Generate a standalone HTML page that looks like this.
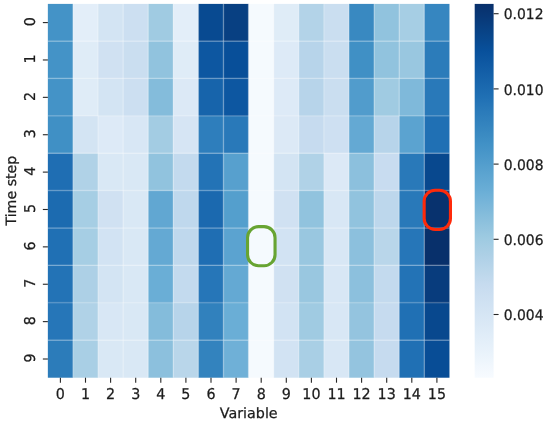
<!DOCTYPE html><html><head><meta charset="utf-8"><style>html,body{margin:0;padding:0;background:#fff;}body{width:550px;height:428px;overflow:hidden;}svg{display:block;}text{text-rendering:geometricPrecision;font-family:"DejaVu Sans","Liberation Sans",sans-serif;fill:#1c1c1c;stroke:#1c1c1c;stroke-width:0.25px;}</style></head><body>
<svg width="550" height="428" viewBox="0 0 550 428">
<defs><linearGradient id="cb" x1="0" y1="0" x2="0" y2="1"><stop offset="0.0000" stop-color="#08306b"/><stop offset="0.0312" stop-color="#083776"/><stop offset="0.0625" stop-color="#084082"/><stop offset="0.0938" stop-color="#08488e"/><stop offset="0.1250" stop-color="#08509b"/><stop offset="0.1562" stop-color="#0e58a2"/><stop offset="0.1875" stop-color="#1460a8"/><stop offset="0.2188" stop-color="#1a68ae"/><stop offset="0.2500" stop-color="#2070b4"/><stop offset="0.2812" stop-color="#2979b9"/><stop offset="0.3125" stop-color="#3181bd"/><stop offset="0.3438" stop-color="#3989c1"/><stop offset="0.3750" stop-color="#4191c6"/><stop offset="0.4062" stop-color="#4b98ca"/><stop offset="0.4375" stop-color="#56a0ce"/><stop offset="0.4688" stop-color="#60a7d2"/><stop offset="0.5000" stop-color="#6aaed6"/><stop offset="0.5312" stop-color="#77b5d9"/><stop offset="0.5625" stop-color="#84bcdb"/><stop offset="0.5938" stop-color="#91c3de"/><stop offset="0.6250" stop-color="#9dcae1"/><stop offset="0.6562" stop-color="#a8cee4"/><stop offset="0.6875" stop-color="#b2d2e8"/><stop offset="0.7188" stop-color="#bcd7eb"/><stop offset="0.7500" stop-color="#c6dbef"/><stop offset="0.7812" stop-color="#ccdff1"/><stop offset="0.8125" stop-color="#d2e3f3"/><stop offset="0.8438" stop-color="#d8e7f5"/><stop offset="0.8750" stop-color="#deebf7"/><stop offset="0.9062" stop-color="#e4eff9"/><stop offset="0.9375" stop-color="#eaf3fb"/><stop offset="0.9688" stop-color="#f1f7fd"/><stop offset="1.0000" stop-color="#f7fbff"/></linearGradient></defs>
<rect x="47.85" y="3.90" width="25.12" height="37.40" fill="#4493c7"/>
<rect x="72.95" y="3.90" width="25.12" height="37.40" fill="#e3eef9"/>
<rect x="98.05" y="3.90" width="25.12" height="37.40" fill="#d3e4f3"/>
<rect x="123.15" y="3.90" width="25.12" height="37.40" fill="#ccdff1"/>
<rect x="148.25" y="3.90" width="25.12" height="37.40" fill="#a0cbe2"/>
<rect x="173.35" y="3.90" width="25.12" height="37.40" fill="#e3eef9"/>
<rect x="198.45" y="3.90" width="25.12" height="37.40" fill="#084a91"/>
<rect x="223.55" y="3.90" width="25.12" height="37.40" fill="#084082"/>
<rect x="248.65" y="3.90" width="25.12" height="37.40" fill="#f5fafe"/>
<rect x="273.75" y="3.90" width="25.12" height="37.40" fill="#dfecf7"/>
<rect x="298.85" y="3.90" width="25.12" height="37.40" fill="#b3d3e8"/>
<rect x="323.95" y="3.90" width="25.12" height="37.40" fill="#cadef0"/>
<rect x="349.05" y="3.90" width="25.12" height="37.40" fill="#3989c1"/>
<rect x="374.15" y="3.90" width="25.12" height="37.40" fill="#91c3de"/>
<rect x="399.25" y="3.90" width="25.12" height="37.40" fill="#a6cee4"/>
<rect x="424.35" y="3.90" width="25.12" height="37.40" fill="#3686c0"/>
<rect x="47.85" y="41.28" width="25.12" height="37.40" fill="#4493c7"/>
<rect x="72.95" y="41.28" width="25.12" height="37.40" fill="#dfecf7"/>
<rect x="98.05" y="41.28" width="25.12" height="37.40" fill="#d0e1f2"/>
<rect x="123.15" y="41.28" width="25.12" height="37.40" fill="#cadef0"/>
<rect x="148.25" y="41.28" width="25.12" height="37.40" fill="#91c3de"/>
<rect x="173.35" y="41.28" width="25.12" height="37.40" fill="#dfecf7"/>
<rect x="198.45" y="41.28" width="25.12" height="37.40" fill="#0d57a1"/>
<rect x="223.55" y="41.28" width="25.12" height="37.40" fill="#084f99"/>
<rect x="248.65" y="41.28" width="25.12" height="37.40" fill="#f5fafe"/>
<rect x="273.75" y="41.28" width="25.12" height="37.40" fill="#ddeaf7"/>
<rect x="298.85" y="41.28" width="25.12" height="37.40" fill="#b7d4ea"/>
<rect x="323.95" y="41.28" width="25.12" height="37.40" fill="#cadef0"/>
<rect x="349.05" y="41.28" width="25.12" height="37.40" fill="#4090c5"/>
<rect x="374.15" y="41.28" width="25.12" height="37.40" fill="#91c3de"/>
<rect x="399.25" y="41.28" width="25.12" height="37.40" fill="#99c7e0"/>
<rect x="424.35" y="41.28" width="25.12" height="37.40" fill="#2c7cba"/>
<rect x="47.85" y="78.66" width="25.12" height="37.40" fill="#4493c7"/>
<rect x="72.95" y="78.66" width="25.12" height="37.40" fill="#dfecf7"/>
<rect x="98.05" y="78.66" width="25.12" height="37.40" fill="#d3e4f3"/>
<rect x="123.15" y="78.66" width="25.12" height="37.40" fill="#ccdff1"/>
<rect x="148.25" y="78.66" width="25.12" height="37.40" fill="#84bcdb"/>
<rect x="173.35" y="78.66" width="25.12" height="37.40" fill="#dce9f6"/>
<rect x="198.45" y="78.66" width="25.12" height="37.40" fill="#1764ab"/>
<rect x="223.55" y="78.66" width="25.12" height="37.40" fill="#0d57a1"/>
<rect x="248.65" y="78.66" width="25.12" height="37.40" fill="#f5fafe"/>
<rect x="273.75" y="78.66" width="25.12" height="37.40" fill="#ddeaf7"/>
<rect x="298.85" y="78.66" width="25.12" height="37.40" fill="#b7d4ea"/>
<rect x="323.95" y="78.66" width="25.12" height="37.40" fill="#cadef0"/>
<rect x="349.05" y="78.66" width="25.12" height="37.40" fill="#519ccc"/>
<rect x="374.15" y="78.66" width="25.12" height="37.40" fill="#a0cbe2"/>
<rect x="399.25" y="78.66" width="25.12" height="37.40" fill="#7fb9da"/>
<rect x="424.35" y="78.66" width="25.12" height="37.40" fill="#2979b9"/>
<rect x="47.85" y="116.04" width="25.12" height="37.40" fill="#4090c5"/>
<rect x="72.95" y="116.04" width="25.12" height="37.40" fill="#d3e4f3"/>
<rect x="98.05" y="116.04" width="25.12" height="37.40" fill="#ddeaf7"/>
<rect x="123.15" y="116.04" width="25.12" height="37.40" fill="#d8e7f5"/>
<rect x="148.25" y="116.04" width="25.12" height="37.40" fill="#a3cce3"/>
<rect x="173.35" y="116.04" width="25.12" height="37.40" fill="#d6e5f4"/>
<rect x="198.45" y="116.04" width="25.12" height="37.40" fill="#2e7ebc"/>
<rect x="223.55" y="116.04" width="25.12" height="37.40" fill="#2979b9"/>
<rect x="248.65" y="116.04" width="25.12" height="37.40" fill="#f5fafe"/>
<rect x="273.75" y="116.04" width="25.12" height="37.40" fill="#dce9f6"/>
<rect x="298.85" y="116.04" width="25.12" height="37.40" fill="#c6dbef"/>
<rect x="323.95" y="116.04" width="25.12" height="37.40" fill="#cee0f2"/>
<rect x="349.05" y="116.04" width="25.12" height="37.40" fill="#64a9d3"/>
<rect x="374.15" y="116.04" width="25.12" height="37.40" fill="#b7d4ea"/>
<rect x="399.25" y="116.04" width="25.12" height="37.40" fill="#5ba3d0"/>
<rect x="424.35" y="116.04" width="25.12" height="37.40" fill="#2070b4"/>
<rect x="47.85" y="153.42" width="25.12" height="37.40" fill="#1f6eb3"/>
<rect x="72.95" y="153.42" width="25.12" height="37.40" fill="#b0d2e7"/>
<rect x="98.05" y="153.42" width="25.12" height="37.40" fill="#d9e8f5"/>
<rect x="123.15" y="153.42" width="25.12" height="37.40" fill="#d9e8f5"/>
<rect x="148.25" y="153.42" width="25.12" height="37.40" fill="#91c3de"/>
<rect x="173.35" y="153.42" width="25.12" height="37.40" fill="#c3daee"/>
<rect x="198.45" y="153.42" width="25.12" height="37.40" fill="#2373b6"/>
<rect x="223.55" y="153.42" width="25.12" height="37.40" fill="#57a0ce"/>
<rect x="248.65" y="153.42" width="25.12" height="37.40" fill="#f5fafe"/>
<rect x="273.75" y="153.42" width="25.12" height="37.40" fill="#d3e4f3"/>
<rect x="298.85" y="153.42" width="25.12" height="37.40" fill="#b0d2e7"/>
<rect x="323.95" y="153.42" width="25.12" height="37.40" fill="#dce9f6"/>
<rect x="349.05" y="153.42" width="25.12" height="37.40" fill="#8cc0dd"/>
<rect x="374.15" y="153.42" width="25.12" height="37.40" fill="#c8dcf0"/>
<rect x="399.25" y="153.42" width="25.12" height="37.40" fill="#2979b9"/>
<rect x="424.35" y="153.42" width="25.12" height="37.40" fill="#08488e"/>
<rect x="47.85" y="190.80" width="25.12" height="37.40" fill="#1c6bb0"/>
<rect x="72.95" y="190.80" width="25.12" height="37.40" fill="#a6cee4"/>
<rect x="98.05" y="190.80" width="25.12" height="37.40" fill="#d0e1f2"/>
<rect x="123.15" y="190.80" width="25.12" height="37.40" fill="#d9e8f5"/>
<rect x="148.25" y="190.80" width="25.12" height="37.40" fill="#61a7d2"/>
<rect x="173.35" y="190.80" width="25.12" height="37.40" fill="#bfd8ed"/>
<rect x="198.45" y="190.80" width="25.12" height="37.40" fill="#1b69af"/>
<rect x="223.55" y="190.80" width="25.12" height="37.40" fill="#549fcd"/>
<rect x="248.65" y="190.80" width="25.12" height="37.40" fill="#f5fafe"/>
<rect x="273.75" y="190.80" width="25.12" height="37.40" fill="#d0e1f2"/>
<rect x="298.85" y="190.80" width="25.12" height="37.40" fill="#91c3de"/>
<rect x="323.95" y="190.80" width="25.12" height="37.40" fill="#d8e7f5"/>
<rect x="349.05" y="190.80" width="25.12" height="37.40" fill="#91c3de"/>
<rect x="374.15" y="190.80" width="25.12" height="37.40" fill="#bdd7ec"/>
<rect x="399.25" y="190.80" width="25.12" height="37.40" fill="#2979b9"/>
<rect x="424.35" y="190.80" width="25.12" height="37.40" fill="#08326e"/>
<rect x="47.85" y="228.18" width="25.12" height="37.40" fill="#2070b4"/>
<rect x="72.95" y="228.18" width="25.12" height="37.40" fill="#a6cee4"/>
<rect x="98.05" y="228.18" width="25.12" height="37.40" fill="#d2e3f3"/>
<rect x="123.15" y="228.18" width="25.12" height="37.40" fill="#d9e8f5"/>
<rect x="148.25" y="228.18" width="25.12" height="37.40" fill="#64a9d3"/>
<rect x="173.35" y="228.18" width="25.12" height="37.40" fill="#bfd8ed"/>
<rect x="198.45" y="228.18" width="25.12" height="37.40" fill="#1f6eb3"/>
<rect x="223.55" y="228.18" width="25.12" height="37.40" fill="#5ba3d0"/>
<rect x="248.65" y="228.18" width="25.12" height="37.40" fill="#f5fafe"/>
<rect x="273.75" y="228.18" width="25.12" height="37.40" fill="#d2e3f3"/>
<rect x="298.85" y="228.18" width="25.12" height="37.40" fill="#99c7e0"/>
<rect x="323.95" y="228.18" width="25.12" height="37.40" fill="#d8e7f5"/>
<rect x="349.05" y="228.18" width="25.12" height="37.40" fill="#8cc0dd"/>
<rect x="374.15" y="228.18" width="25.12" height="37.40" fill="#b9d6ea"/>
<rect x="399.25" y="228.18" width="25.12" height="37.40" fill="#2676b8"/>
<rect x="424.35" y="228.18" width="25.12" height="37.40" fill="#08306b"/>
<rect x="47.85" y="265.56" width="25.12" height="37.40" fill="#2373b6"/>
<rect x="72.95" y="265.56" width="25.12" height="37.40" fill="#add0e6"/>
<rect x="98.05" y="265.56" width="25.12" height="37.40" fill="#d3e4f3"/>
<rect x="123.15" y="265.56" width="25.12" height="37.40" fill="#d9e8f5"/>
<rect x="148.25" y="265.56" width="25.12" height="37.40" fill="#6aaed6"/>
<rect x="173.35" y="265.56" width="25.12" height="37.40" fill="#c3daee"/>
<rect x="198.45" y="265.56" width="25.12" height="37.40" fill="#2676b8"/>
<rect x="223.55" y="265.56" width="25.12" height="37.40" fill="#64a9d3"/>
<rect x="248.65" y="265.56" width="25.12" height="37.40" fill="#f5fafe"/>
<rect x="273.75" y="265.56" width="25.12" height="37.40" fill="#d0e1f2"/>
<rect x="298.85" y="265.56" width="25.12" height="37.40" fill="#99c7e0"/>
<rect x="323.95" y="265.56" width="25.12" height="37.40" fill="#d8e7f5"/>
<rect x="349.05" y="265.56" width="25.12" height="37.40" fill="#8cc0dd"/>
<rect x="374.15" y="265.56" width="25.12" height="37.40" fill="#c3daee"/>
<rect x="399.25" y="265.56" width="25.12" height="37.40" fill="#2373b6"/>
<rect x="424.35" y="265.56" width="25.12" height="37.40" fill="#083c7d"/>
<rect x="47.85" y="302.94" width="25.12" height="37.40" fill="#2676b8"/>
<rect x="72.95" y="302.94" width="25.12" height="37.40" fill="#b0d2e7"/>
<rect x="98.05" y="302.94" width="25.12" height="37.40" fill="#d8e7f5"/>
<rect x="123.15" y="302.94" width="25.12" height="37.40" fill="#d9e8f5"/>
<rect x="148.25" y="302.94" width="25.12" height="37.40" fill="#84bcdb"/>
<rect x="173.35" y="302.94" width="25.12" height="37.40" fill="#b7d4ea"/>
<rect x="198.45" y="302.94" width="25.12" height="37.40" fill="#3181bd"/>
<rect x="223.55" y="302.94" width="25.12" height="37.40" fill="#6aaed6"/>
<rect x="248.65" y="302.94" width="25.12" height="37.40" fill="#f5fafe"/>
<rect x="273.75" y="302.94" width="25.12" height="37.40" fill="#d2e3f3"/>
<rect x="298.85" y="302.94" width="25.12" height="37.40" fill="#a0cbe2"/>
<rect x="323.95" y="302.94" width="25.12" height="37.40" fill="#d8e7f5"/>
<rect x="349.05" y="302.94" width="25.12" height="37.40" fill="#94c4df"/>
<rect x="374.15" y="302.94" width="25.12" height="37.40" fill="#c6dbef"/>
<rect x="399.25" y="302.94" width="25.12" height="37.40" fill="#2070b4"/>
<rect x="424.35" y="302.94" width="25.12" height="37.40" fill="#08488e"/>
<rect x="47.85" y="340.32" width="25.12" height="37.40" fill="#2c7cba"/>
<rect x="72.95" y="340.32" width="25.12" height="37.40" fill="#a9cfe5"/>
<rect x="98.05" y="340.32" width="25.12" height="37.40" fill="#d9e8f5"/>
<rect x="123.15" y="340.32" width="25.12" height="37.40" fill="#d9e8f5"/>
<rect x="148.25" y="340.32" width="25.12" height="37.40" fill="#8cc0dd"/>
<rect x="173.35" y="340.32" width="25.12" height="37.40" fill="#b9d6ea"/>
<rect x="198.45" y="340.32" width="25.12" height="37.40" fill="#3383be"/>
<rect x="223.55" y="340.32" width="25.12" height="37.40" fill="#6fb0d7"/>
<rect x="248.65" y="340.32" width="25.12" height="37.40" fill="#f5fafe"/>
<rect x="273.75" y="340.32" width="25.12" height="37.40" fill="#d2e3f3"/>
<rect x="298.85" y="340.32" width="25.12" height="37.40" fill="#a9cfe5"/>
<rect x="323.95" y="340.32" width="25.12" height="37.40" fill="#d8e7f5"/>
<rect x="349.05" y="340.32" width="25.12" height="37.40" fill="#94c4df"/>
<rect x="374.15" y="340.32" width="25.12" height="37.40" fill="#c6dbef"/>
<rect x="399.25" y="340.32" width="25.12" height="37.40" fill="#2070b4"/>
<rect x="424.35" y="340.32" width="25.12" height="37.40" fill="#084d96"/>
<rect x="72.10" y="3.90" width="1.50" height="373.80" fill="#fff" fill-opacity="0.22"/>
<rect x="97.20" y="3.90" width="1.50" height="373.80" fill="#fff" fill-opacity="0.22"/>
<rect x="122.30" y="3.90" width="1.50" height="373.80" fill="#fff" fill-opacity="0.22"/>
<rect x="147.40" y="3.90" width="1.50" height="373.80" fill="#fff" fill-opacity="0.22"/>
<rect x="172.50" y="3.90" width="1.50" height="373.80" fill="#fff" fill-opacity="0.22"/>
<rect x="197.60" y="3.90" width="1.50" height="373.80" fill="#fff" fill-opacity="0.22"/>
<rect x="222.70" y="3.90" width="1.50" height="373.80" fill="#fff" fill-opacity="0.22"/>
<rect x="247.80" y="3.90" width="1.50" height="373.80" fill="#fff" fill-opacity="0.22"/>
<rect x="272.90" y="3.90" width="1.50" height="373.80" fill="#fff" fill-opacity="0.22"/>
<rect x="298.00" y="3.90" width="1.50" height="373.80" fill="#fff" fill-opacity="0.22"/>
<rect x="323.10" y="3.90" width="1.50" height="373.80" fill="#fff" fill-opacity="0.22"/>
<rect x="348.20" y="3.90" width="1.50" height="373.80" fill="#fff" fill-opacity="0.22"/>
<rect x="373.30" y="3.90" width="1.50" height="373.80" fill="#fff" fill-opacity="0.22"/>
<rect x="398.40" y="3.90" width="1.50" height="373.80" fill="#fff" fill-opacity="0.22"/>
<rect x="423.50" y="3.90" width="1.50" height="373.80" fill="#fff" fill-opacity="0.22"/>
<rect x="47.85" y="40.23" width="401.60" height="1.50" fill="#fff" fill-opacity="0.22"/>
<rect x="47.85" y="77.61" width="401.60" height="1.50" fill="#fff" fill-opacity="0.22"/>
<rect x="47.85" y="114.99" width="401.60" height="1.50" fill="#fff" fill-opacity="0.22"/>
<rect x="47.85" y="152.37" width="401.60" height="1.50" fill="#fff" fill-opacity="0.22"/>
<rect x="47.85" y="189.75" width="401.60" height="1.50" fill="#fff" fill-opacity="0.22"/>
<rect x="47.85" y="227.13" width="401.60" height="1.50" fill="#fff" fill-opacity="0.22"/>
<rect x="47.85" y="264.51" width="401.60" height="1.50" fill="#fff" fill-opacity="0.22"/>
<rect x="47.85" y="301.89" width="401.60" height="1.50" fill="#fff" fill-opacity="0.22"/>
<rect x="47.85" y="339.27" width="401.60" height="1.50" fill="#fff" fill-opacity="0.22"/>
<line x1="60.40" y1="377.70" x2="60.40" y2="382.70" stroke="#262626" stroke-width="1.10"/>
<text font-size="14.30" text-anchor="middle" transform="translate(60.40 398.60) scale(1 1.0400)">0</text>
<line x1="85.50" y1="377.70" x2="85.50" y2="382.70" stroke="#262626" stroke-width="1.10"/>
<text font-size="14.30" text-anchor="middle" transform="translate(85.50 398.60) scale(1 1.0400)">1</text>
<line x1="110.60" y1="377.70" x2="110.60" y2="382.70" stroke="#262626" stroke-width="1.10"/>
<text font-size="14.30" text-anchor="middle" transform="translate(110.60 398.60) scale(1 1.0400)">2</text>
<line x1="135.70" y1="377.70" x2="135.70" y2="382.70" stroke="#262626" stroke-width="1.10"/>
<text font-size="14.30" text-anchor="middle" transform="translate(135.70 398.60) scale(1 1.0400)">3</text>
<line x1="160.80" y1="377.70" x2="160.80" y2="382.70" stroke="#262626" stroke-width="1.10"/>
<text font-size="14.30" text-anchor="middle" transform="translate(160.80 398.60) scale(1 1.0400)">4</text>
<line x1="185.90" y1="377.70" x2="185.90" y2="382.70" stroke="#262626" stroke-width="1.10"/>
<text font-size="14.30" text-anchor="middle" transform="translate(185.90 398.60) scale(1 1.0400)">5</text>
<line x1="211.00" y1="377.70" x2="211.00" y2="382.70" stroke="#262626" stroke-width="1.10"/>
<text font-size="14.30" text-anchor="middle" transform="translate(211.00 398.60) scale(1 1.0400)">6</text>
<line x1="236.10" y1="377.70" x2="236.10" y2="382.70" stroke="#262626" stroke-width="1.10"/>
<text font-size="14.30" text-anchor="middle" transform="translate(236.10 398.60) scale(1 1.0400)">7</text>
<line x1="261.20" y1="377.70" x2="261.20" y2="382.70" stroke="#262626" stroke-width="1.10"/>
<text font-size="14.30" text-anchor="middle" transform="translate(261.20 398.60) scale(1 1.0400)">8</text>
<line x1="286.30" y1="377.70" x2="286.30" y2="382.70" stroke="#262626" stroke-width="1.10"/>
<text font-size="14.30" text-anchor="middle" transform="translate(286.30 398.60) scale(1 1.0400)">9</text>
<line x1="311.40" y1="377.70" x2="311.40" y2="382.70" stroke="#262626" stroke-width="1.10"/>
<text font-size="14.30" text-anchor="middle" transform="translate(311.40 398.60) scale(1 1.0400)">10</text>
<line x1="336.50" y1="377.70" x2="336.50" y2="382.70" stroke="#262626" stroke-width="1.10"/>
<text font-size="14.30" text-anchor="middle" transform="translate(336.50 398.60) scale(1 1.0400)">11</text>
<line x1="361.60" y1="377.70" x2="361.60" y2="382.70" stroke="#262626" stroke-width="1.10"/>
<text font-size="14.30" text-anchor="middle" transform="translate(361.60 398.60) scale(1 1.0400)">12</text>
<line x1="386.70" y1="377.70" x2="386.70" y2="382.70" stroke="#262626" stroke-width="1.10"/>
<text font-size="14.30" text-anchor="middle" transform="translate(386.70 398.60) scale(1 1.0400)">13</text>
<line x1="411.80" y1="377.70" x2="411.80" y2="382.70" stroke="#262626" stroke-width="1.10"/>
<text font-size="14.30" text-anchor="middle" transform="translate(411.80 398.60) scale(1 1.0400)">14</text>
<line x1="436.90" y1="377.70" x2="436.90" y2="382.70" stroke="#262626" stroke-width="1.10"/>
<text font-size="14.30" text-anchor="middle" transform="translate(436.90 398.60) scale(1 1.0400)">15</text>
<line x1="42.85" y1="22.59" x2="47.85" y2="22.59" stroke="#262626" stroke-width="1.10"/>
<text font-size="14.30" text-anchor="middle" transform="translate(35.00 21.64) rotate(-90) scale(1 1.0400)">0</text>
<line x1="42.85" y1="59.97" x2="47.85" y2="59.97" stroke="#262626" stroke-width="1.10"/>
<text font-size="14.30" text-anchor="middle" transform="translate(35.00 59.02) rotate(-90) scale(1 1.0400)">1</text>
<line x1="42.85" y1="97.35" x2="47.85" y2="97.35" stroke="#262626" stroke-width="1.10"/>
<text font-size="14.30" text-anchor="middle" transform="translate(35.00 96.40) rotate(-90) scale(1 1.0400)">2</text>
<line x1="42.85" y1="134.73" x2="47.85" y2="134.73" stroke="#262626" stroke-width="1.10"/>
<text font-size="14.30" text-anchor="middle" transform="translate(35.00 133.78) rotate(-90) scale(1 1.0400)">3</text>
<line x1="42.85" y1="172.11" x2="47.85" y2="172.11" stroke="#262626" stroke-width="1.10"/>
<text font-size="14.30" text-anchor="middle" transform="translate(35.00 171.16) rotate(-90) scale(1 1.0400)">4</text>
<line x1="42.85" y1="209.49" x2="47.85" y2="209.49" stroke="#262626" stroke-width="1.10"/>
<text font-size="14.30" text-anchor="middle" transform="translate(35.00 208.54) rotate(-90) scale(1 1.0400)">5</text>
<line x1="42.85" y1="246.87" x2="47.85" y2="246.87" stroke="#262626" stroke-width="1.10"/>
<text font-size="14.30" text-anchor="middle" transform="translate(35.00 245.92) rotate(-90) scale(1 1.0400)">6</text>
<line x1="42.85" y1="284.25" x2="47.85" y2="284.25" stroke="#262626" stroke-width="1.10"/>
<text font-size="14.30" text-anchor="middle" transform="translate(35.00 283.30) rotate(-90) scale(1 1.0400)">7</text>
<line x1="42.85" y1="321.63" x2="47.85" y2="321.63" stroke="#262626" stroke-width="1.10"/>
<text font-size="14.30" text-anchor="middle" transform="translate(35.00 320.68) rotate(-90) scale(1 1.0400)">8</text>
<line x1="42.85" y1="359.01" x2="47.85" y2="359.01" stroke="#262626" stroke-width="1.10"/>
<text font-size="14.30" text-anchor="middle" transform="translate(35.00 358.06) rotate(-90) scale(1 1.0400)">9</text>
<text font-size="14.30" text-anchor="middle" transform="translate(248.70 417.50) scale(1 1.0000)">Variable</text>
<text font-size="14.20" text-anchor="middle" transform="translate(16.00 190.65) rotate(-90) scale(1 1.0000)">Time step</text>
<rect x="474.70" y="3.90" width="18.90" height="373.80" fill="url(#cb)"/>
<line x1="493.60" y1="13.70" x2="498.60" y2="13.70" stroke="#262626" stroke-width="1.10"/>
<text font-size="13.90" transform="translate(503.70 19.30) scale(1 1.0400)">0.012</text>
<line x1="493.60" y1="88.90" x2="498.60" y2="88.90" stroke="#262626" stroke-width="1.10"/>
<text font-size="13.90" transform="translate(503.70 94.50) scale(1 1.0400)">0.010</text>
<line x1="493.60" y1="164.10" x2="498.60" y2="164.10" stroke="#262626" stroke-width="1.10"/>
<text font-size="13.90" transform="translate(503.70 169.70) scale(1 1.0400)">0.008</text>
<line x1="493.60" y1="239.30" x2="498.60" y2="239.30" stroke="#262626" stroke-width="1.10"/>
<text font-size="13.90" transform="translate(503.70 244.90) scale(1 1.0400)">0.006</text>
<line x1="493.60" y1="314.50" x2="498.60" y2="314.50" stroke="#262626" stroke-width="1.10"/>
<text font-size="13.90" transform="translate(503.70 320.10) scale(1 1.0400)">0.004</text>
<rect x="424.15" y="190.30" width="26.30" height="39.20" rx="11.00" ry="11.00" fill="none" stroke="#ff2a0a" stroke-width="3.10"/>
<rect x="247.55" y="226.65" width="27.50" height="39.10" rx="11.00" ry="11.00" fill="none" stroke="#67a432" stroke-width="3.10"/>
</svg></body></html>
